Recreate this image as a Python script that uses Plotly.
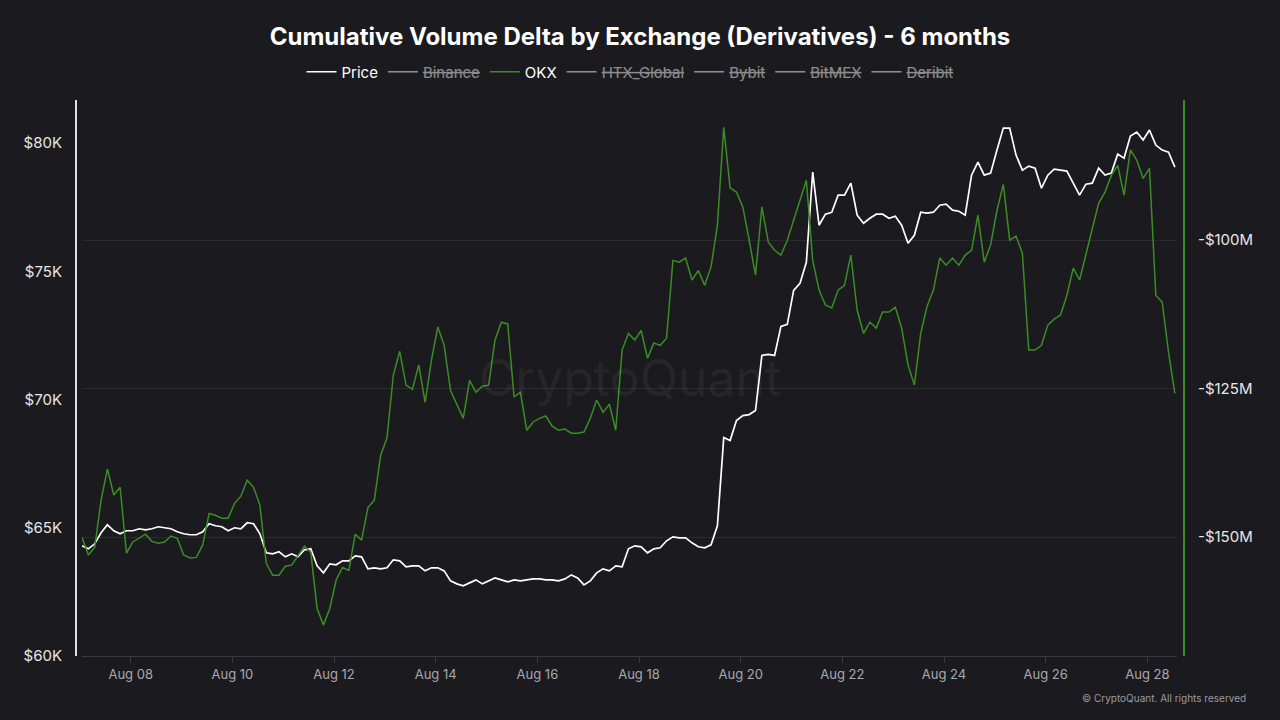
import pandas as pd
import plotly.graph_objects as go

# ---------------- data ----------------
times = pd.date_range("2024-08-07 01:00", periods=173, freq="3h")

price = [
    64297, 64180, 64375, 64805, 65117, 64883, 64766, 64883,
    64883, 64961, 64922, 64961, 65039, 65000, 64961, 64844,
    64766, 64727, 64727, 64844, 65156, 65078, 65039, 64883,
    65000, 64961, 65195, 65156, 64766, 64023, 63984, 64063,
    63867, 63984, 63867, 64141, 64180, 63516, 63242, 63594,
    63555, 63711, 63711, 63906, 63867, 63398, 63438, 63398,
    63438, 63750, 63711, 63477, 63516, 63516, 63320, 63438,
    63438, 63320, 62930, 62813, 62734, 62852, 62969, 62813,
    62930, 63047, 62969, 62891, 62969, 62930, 62969, 63008,
    63008, 62969, 62969, 62930, 63008, 63164, 63047, 62773,
    62930, 63242, 63398, 63320, 63516, 63477, 64180, 64297,
    64258, 64023, 64180, 64219, 64492, 64648, 64609, 64609,
    64414, 64258, 64219, 64336, 65078, 68516, 68398, 69180,
    69375, 69414, 69570, 71719, 71758, 71719, 72852, 72930,
    74258, 74531, 75352, 78867, 76797, 77227, 77305, 77969,
    77969, 78438, 77188, 76875, 77070, 77227, 77227, 77070,
    77148, 76797, 76094, 76406, 77305, 77266, 77305, 77578,
    77617, 77383, 77344, 77188, 78750, 79258, 78750, 78828,
    79727, 80586, 80586, 79531, 78945, 79102, 79023, 78242,
    78750, 78984, 78945, 78906, 78438, 77969, 78398, 78438,
    79023, 78750, 78828, 79570, 79414, 80273, 80430, 80117,
    80508, 79922, 79727, 79648, 79063,
]

okx_cvd_m = [
    -150.0, -153.0, -151.7, -143.8, -138.5, -142.9, -141.6, -152.7,
    -150.8, -150.2, -149.5, -150.7, -151.0, -150.8, -149.8, -150.2,
    -153.0, -153.5, -153.4, -151.3, -146.0, -146.3, -146.8, -146.8,
    -144.3, -143.1, -140.4, -141.6, -144.6, -154.4, -156.4, -156.4,
    -154.9, -154.7, -153.0, -151.5, -152.5, -162.0, -164.8, -162.0,
    -157.2, -155.1, -155.6, -149.5, -150.5, -145.0, -143.8, -136.2,
    -133.3, -122.7, -118.7, -124.4, -125.1, -121.0, -127.3, -120.2,
    -114.6, -117.7, -125.3, -127.8, -130.0, -123.6, -125.6, -124.6,
    -124.4, -116.8, -113.8, -114.1, -126.4, -125.6, -132.0, -130.6,
    -130.0, -129.6, -131.3, -132.0, -131.8, -132.5, -132.5, -132.3,
    -130.0, -126.9, -129.0, -127.6, -132.0, -118.5, -115.7, -116.8,
    -115.2, -119.9, -117.3, -117.7, -116.5, -103.4, -103.7, -103.0,
    -106.7, -105.1, -107.6, -104.5, -97.5, -81.0, -91.2, -91.9,
    -94.4, -100.0, -105.9, -94.4, -100.3, -101.7, -102.5, -100.0,
    -96.6, -93.3, -89.9, -103.4, -108.4, -110.9, -111.4, -108.4,
    -107.6, -102.5, -111.8, -115.7, -113.8, -114.8, -112.1, -112.1,
    -111.3, -114.8, -121.0, -124.4, -115.7, -111.1, -108.4, -103.0,
    -104.2, -103.0, -104.2, -102.5, -101.7, -95.8, -103.7, -100.8,
    -95.0, -90.6, -100.0, -99.3, -102.2, -118.5, -118.5, -117.7,
    -114.3, -113.3, -112.6, -109.3, -104.7, -106.7, -102.5, -98.0,
    -93.8, -91.9, -89.1, -87.4, -92.4, -84.8, -86.5, -89.6,
    -87.9, -109.3, -110.4, -118.9, -125.8,
]
okx_cvd = [v * 1e6 for v in okx_cvd_m]

hidden_exchanges = ["Binance", "HTX_Global", "Bybit", "BitMEX", "Deribit"]

price_ticks = [60000, 65000, 70000, 75000, 80000]
price_tick_text = ["$60K", "$65K", "$70K", "$75K", "$80K"]
cvd_ticks = [-150e6, -125e6, -100e6]
cvd_tick_text = ["-$150M", "-$125M", "-$100M"]
x_ticks = pd.date_range("2024-08-08", "2024-08-28", freq="2D")

# ---------------- style ----------------
BG = "#1b1b1f"
GREEN = "#3a8d24"
FONT = "Inter"


def hidden_trace(name):
    return go.Scatter(
        x=[times[0]], y=[None], name=f"<s>{name}</s>", mode="lines",
        line=dict(color="#ffffff", width=1.6), visible="legendonly", yaxis="y2",
    )


fig = go.Figure()
fig.add_trace(go.Scatter(
    x=times, y=price, name="Price", mode="lines",
    line=dict(color="#ffffff", width=1.7), yaxis="y", hoverinfo="skip",
))
fig.add_trace(hidden_trace(hidden_exchanges[0]))
fig.add_trace(go.Scatter(
    x=times, y=okx_cvd, name="OKX", mode="lines",
    line=dict(color=GREEN, width=1.5), yaxis="y2", hoverinfo="skip",
))
for ex in hidden_exchanges[1:]:
    fig.add_trace(hidden_trace(ex))

fig.update_layout(
    width=1280, height=720,
    paper_bgcolor=BG, plot_bgcolor=BG,
    margin=dict(l=76, r=96, t=100, b=64),
    font=dict(family=FONT, color="#e6e6e6", size=14),
    title=dict(
        text="<b>Cumulative Volume Delta by Exchange (Derivatives) - 6 months</b>",
        x=0.5, xanchor="center", y=1 - 37 / 720, yanchor="middle", yref="container",
        font=dict(family=FONT, size=24, color="#ffffff"),
    ),
    legend=dict(
        orientation="h", x=0.5, xanchor="center", y=1 - 72 / 720, yanchor="middle",
        yref="container", font=dict(family=FONT, size=15, color="#ffffff"),
        itemwidth=30, bgcolor="rgba(0,0,0,0)", traceorder="normal",
    ),
    showlegend=True,
    xaxis=dict(
        domain=[6 / 1108, 1 - 7 / 1108],
        type="date",
        range=[times[0], times[-1] + pd.Timedelta(hours=1)],
        tickvals=list(x_ticks), tickformat="%b %d",
        showgrid=False, zeroline=False,
        showline=True, linecolor="#3a3a40", linewidth=1,
        ticks="outside", ticklen=6, tickcolor="#3a3a40",
        tickfont=dict(size=13, color="#a8a8ad"),
    ),
    yaxis=dict(
        range=[60000, 81680],
        tickvals=price_ticks, ticktext=price_tick_text,
        showgrid=False, zeroline=False,
        showline=True, linecolor="#e0e0e0", linewidth=2,
        anchor="free", position=0, side="left",
        ticks="", ticklabelstandoff=10, tickfont=dict(size=15, color="#e6e6e6"),
    ),
    yaxis2=dict(
        range=[-170.0e6, -76.4e6],
        tickvals=cvd_ticks, ticktext=cvd_tick_text,
        overlaying="y", side="right", anchor="free", position=1,
        showgrid=True, gridcolor="#2a2a30", gridwidth=1, zeroline=False,
        showline=True, linecolor=GREEN, linewidth=2,
        ticks="", ticklabelstandoff=10, tickfont=dict(size=15, color="#e6e6e6"),
    ),
    annotations=[
        dict(text="CryptoQuant", x=0.5, y=0.5, xref="paper", yref="paper",
             showarrow=False, font=dict(family=FONT, size=50, color="rgba(255,255,255,0.05)")),
        dict(text="© CryptoQuant. All rights reserved",
             x=(1248 - 76) / 1108, y=(656 - 698) / 556,
             xref="paper", yref="paper", xanchor="right", yanchor="middle",
             showarrow=False, font=dict(family=FONT, size=10, color="#9a9a9f")),
    ],
    hovermode=False,
)

fig.write_html(
    "out.html",
    config={"displayModeBar": False},
    post_script="document.body.style.margin='0';document.body.style.background='#1b1b1f';",
)
